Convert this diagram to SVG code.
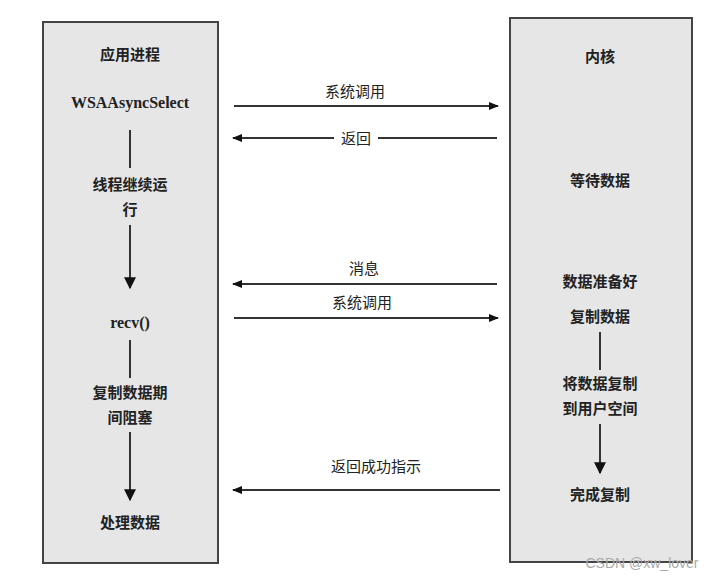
<svg xmlns="http://www.w3.org/2000/svg" width="718" height="579" viewBox="0 0 718 579">
<style>
.box{fill:#e6e6e6;stroke:#444;stroke-width:2}
text{font-family:"Noto Sans CJK SC","Liberation Serif",serif;font-size:15px;font-weight:bold;fill:#222;text-anchor:middle}
.n{font-weight:normal}
.s{font-family:"Liberation Serif",serif;font-size:16px}
.l{stroke:#333;stroke-width:2;fill:none}
</style>
<defs><marker id="a" viewBox="0 0 10 10" refX="9" refY="5" markerWidth="10" markerHeight="10" markerUnits="userSpaceOnUse" orient="auto"><path d="M0,1 L10,5 L0,9 z" fill="#111"/></marker>
<marker id="v" viewBox="0 0 10 10" refX="9" refY="5" markerWidth="18" markerHeight="12" markerUnits="userSpaceOnUse" orient="auto"><path d="M0,0 L10,5 L0,10 z" fill="#111"/></marker></defs>
<rect width="718" height="579" fill="#fff"/>
<g id="app">
<rect class="box" x="43" y="22" width="175" height="541"/>
<text x="130" y="60">应用进程</text>
<text x="130" y="108" class="s">WSAAsyncSelect</text>
<text x="130" y="190">线程继续运</text>
<text x="130" y="215">行</text>
<text x="130" y="328" class="s">recv()</text>
<text x="130" y="398">复制数据期</text>
<text x="130" y="423">间阻塞</text>
<text x="130" y="528">处理数据</text>
</g>
<g id="kernel">
<rect class="box" x="510" y="18" width="182" height="544"/>
<text x="600" y="62">内核</text>
<text x="600" y="186">等待数据</text>
<text x="600" y="287">数据准备好</text>
<text x="600" y="322">复制数据</text>
<text x="600" y="389">将数据复制</text>
<text x="600" y="414">到用户空间</text>
<text x="600" y="500">完成复制</text>
</g>
<g id="connectors">
<line class="l" x1="130" y1="130" x2="130" y2="168"/>
<line class="l" x1="130" y1="225" x2="130" y2="288" marker-end="url(#v)"/>
<line class="l" x1="130" y1="340" x2="130" y2="378"/>
<line class="l" x1="130" y1="432" x2="130" y2="500" marker-end="url(#v)"/>
<line class="l" x1="600" y1="332" x2="600" y2="370"/>
<line class="l" x1="600" y1="424" x2="600" y2="473" marker-end="url(#v)"/>
<line class="l" x1="234" y1="106" x2="498" y2="106" marker-end="url(#a)"/>
<text x="355" y="97" class="n">系统调用</text>
<line class="l" x1="497" y1="138" x2="233" y2="138" marker-end="url(#a)"/>
<rect x="334" y="128" width="44" height="20" fill="#fff"/>
<text x="356" y="144" class="n">返回</text>
<line class="l" x1="497" y1="284" x2="233" y2="284" marker-end="url(#a)"/>
<text x="364" y="274" class="n">消息</text>
<line class="l" x1="234" y1="318" x2="498" y2="318" marker-end="url(#a)"/>
<text x="362" y="308" class="n">系统调用</text>
<line class="l" x1="500" y1="490" x2="233" y2="490" marker-end="url(#a)"/>
<text x="376" y="472" class="n">返回成功指示</text>
</g>
<text x="642" y="568" style="font-family:'Liberation Sans',sans-serif;font-weight:normal;font-size:14px;fill:#aaa">CSDN @xw_lover</text>
</svg>
